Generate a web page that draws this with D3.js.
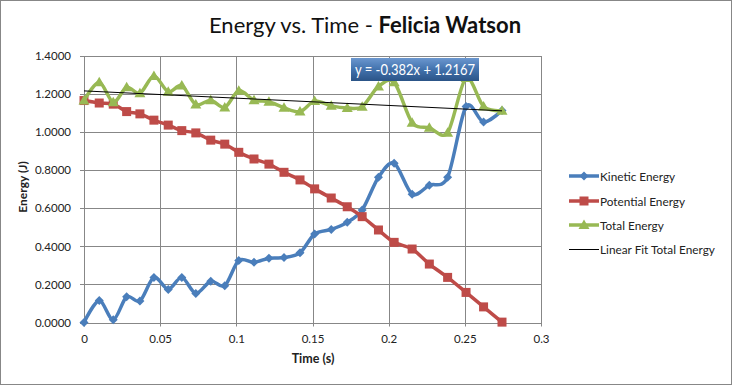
<!DOCTYPE html>
<html>
<head>
<meta charset="utf-8">
<script src="https://cdn.jsdelivr.net/npm/d3@7/dist/d3.min.js"></script>
<style>
  html, body { margin: 0; padding: 0; background: #fff; }
  svg { display: block; }
  text { font-family: Lato, "Open Sans", sans-serif; }
</style>
</head>
<body>
<svg id="chart" width="732" height="385"></svg>
<script>
// ---- data ----
const time = [0, 0.0100, 0.0192, 0.0280, 0.0367, 0.0459, 0.0553, 0.0642, 0.0734, 0.0832,
  0.0924, 0.1016, 0.1116, 0.1214, 0.1313, 0.1418, 0.1514, 0.1623, 0.1728, 0.1826,
  0.1933, 0.2036, 0.2154, 0.2267, 0.2387, 0.2508, 0.2623, 0.2744];
const kinetic = [0.000, 0.115, 0.014, 0.135, 0.113, 0.237, 0.174, 0.237, 0.153, 0.217,
  0.193, 0.326, 0.316, 0.338, 0.341, 0.366, 0.465, 0.489, 0.526, 0.591,
  0.763, 0.837, 0.674, 0.721, 0.763, 1.135, 1.053, 1.114];
const potential = [1.166, 1.153, 1.147, 1.108, 1.096, 1.063, 1.037, 1.008, 0.996, 0.958,
  0.937, 0.894, 0.859, 0.832, 0.789, 0.749, 0.702, 0.654, 0.608, 0.556,
  0.486, 0.421, 0.386, 0.307, 0.237, 0.158, 0.082, 0.002];
const total = [1.166, 1.262, 1.157, 1.236, 1.204, 1.295, 1.212, 1.245, 1.145, 1.168,
  1.130, 1.218, 1.168, 1.160, 1.128, 1.108, 1.163, 1.138, 1.127, 1.134,
  1.240, 1.262, 1.050, 1.023, 0.997, 1.285, 1.135, 1.112];
const fitSlope = -0.382, fitIntercept = 1.2167;
const xTicks = [0, 0.05, 0.1, 0.15, 0.2, 0.25, 0.3];
const xTickLabels = ["0", "0.05", "0.1", "0.15", "0.2", "0.25", "0.3"];
const yTicks = [0, 0.2, 0.4, 0.6, 0.8, 1.0, 1.2, 1.4];
const seriesNames = ["Kinetic Energy", "Potential Energy", "Total Energy", "Linear Fit Total Energy"];

// ---- layout ----
const svg = d3.select("#chart");
const W = 732, H = 385;
const plot = { left: 84, right: 541, top: 56, bottom: 322.5 };
const x = d3.scaleLinear().domain([0, 0.3]).range([plot.left, plot.right]);
const y = d3.scaleLinear().domain([0, 1.4]).range([plot.bottom, plot.top]);
const grid = "#878787";

svg.append("rect").attr("x", 0.5).attr("y", 0.5).attr("width", W - 1).attr("height", H - 1)
  .attr("fill", "#fff").attr("stroke", grid);

// gridlines
const g = svg.append("g");
g.selectAll(".hg").data(yTicks).join("line")
  .attr("x1", plot.left).attr("x2", plot.right)
  .attr("y1", d => Math.round(y(d)) + 0.5).attr("y2", d => Math.round(y(d)) + 0.5)
  .attr("stroke", grid).attr("stroke-width", 1);
g.selectAll(".vg").data(xTicks).join("line")
  .attr("y1", plot.top).attr("y2", plot.bottom + 4)
  .attr("x1", d => Math.round(x(d)) + 0.5).attr("x2", d => Math.round(x(d)) + 0.5)
  .attr("stroke", grid).attr("stroke-width", 1);
g.selectAll(".yt").data(yTicks).join("line")
  .attr("x1", plot.left - 4).attr("x2", plot.left)
  .attr("y1", d => Math.round(y(d)) + 0.5).attr("y2", d => Math.round(y(d)) + 0.5)
  .attr("stroke", grid);

// axes labels
const yAxis = d3.axisLeft(y).tickValues(yTicks).tickFormat(d3.format(".4f")).tickSize(0).tickPadding(13);
const ya = svg.append("g").attr("transform", `translate(${plot.left},0)`).call(yAxis);
ya.select(".domain").remove();
ya.selectAll("text").attr("font-family", "Lato, sans-serif").attr("font-size", 11.5).attr("fill", "#222");

const xAxis = d3.axisBottom(x).tickValues(xTicks).tickFormat((d, i) => xTickLabels[i]).tickSize(0).tickPadding(12);
const xa = svg.append("g").attr("transform", `translate(0,${plot.bottom})`).call(xAxis);
xa.select(".domain").remove();
xa.selectAll("text").attr("font-family", "Lato, sans-serif").attr("font-size", 11.5).attr("fill", "#222");

// axis titles
svg.append("text").attr("transform", "translate(27,187) rotate(-90)")
  .attr("text-anchor", "middle").attr("font-size", 12).attr("font-weight", "bold").attr("fill", "#222")
  .text("Energy (J)");
svg.append("text").attr("x", 313).attr("y", 363)
  .attr("text-anchor", "middle").attr("font-size", 12.5).attr("font-weight", "bold").attr("fill", "#222")
  .text("Time (s)");

// title
const title = svg.append("text").attr("x", 365).attr("y", 33).attr("text-anchor", "middle")
  .attr("font-size", 22).attr("fill", "#111");
title.append("tspan").text("Energy vs. Time - ");
title.append("tspan").attr("font-weight", "bold").text("Felicia Watson");

// series
const colors = ["#4A7EBB", "#BE4B48", "#98B954"];
const seriesVals = [kinetic, potential, total];
const curve = d3.curveCardinal.tension(0.1);

const lineGen = d3.line().x((d, i) => x(time[i])).y(d => y(d)).curve(curve);

function drawMarker(gg, type, cx, cy, color) {
  if (type === 0) {
    gg.append("path").attr("d", `M${cx},${cy - 4.5}L${cx + 4.5},${cy}L${cx},${cy + 4.5}L${cx - 4.5},${cy}Z`).attr("fill", color);
  } else if (type === 1) {
    gg.append("rect").attr("x", cx - 4.5).attr("y", cy - 4.5).attr("width", 9).attr("height", 9).attr("fill", color);
  } else {
    gg.append("path").attr("d", `M${cx},${cy - 5.5}L${cx + 5.5},${cy + 4}L${cx - 5.5},${cy + 4}Z`).attr("fill", color);
  }
}

const seriesG = svg.append("g");
[0, 1, 2].forEach(k => {
  seriesG.append("path").attr("d", lineGen(seriesVals[k])).attr("fill", "none")
    .attr("stroke", colors[k]).attr("stroke-width", 3.5).attr("stroke-linejoin", "round");
  const mg = seriesG.append("g");
  seriesVals[k].forEach((v, i) => drawMarker(mg, k, x(time[i]), y(v), colors[k]));
});

// linear fit
const fitX = [time[0], time[time.length - 1]];
seriesG.append("line")
  .attr("x1", x(fitX[0])).attr("y1", y(fitIntercept + fitSlope * fitX[0]))
  .attr("x2", x(fitX[1])).attr("y2", y(fitIntercept + fitSlope * fitX[1]))
  .attr("stroke", "#000").attr("stroke-width", 1);

// equation label
const defs = svg.append("defs");
const grad = defs.append("linearGradient").attr("id", "eqg").attr("x1", 0).attr("y1", 0).attr("x2", 0).attr("y2", 1);
grad.append("stop").attr("offset", "0%").attr("stop-color", "#6b97cf");
grad.append("stop").attr("offset", "50%").attr("stop-color", "#4272ad");
grad.append("stop").attr("offset", "100%").attr("stop-color", "#2b5487");
svg.append("rect").attr("x", 351).attr("y", 58).attr("width", 128).attr("height", 23).attr("fill", "url(#eqg)");
svg.append("text").attr("x", 355).attr("y", 75)
  .attr("font-size", 14.5).attr("fill", "#fff")
  .attr("textLength", 120).attr("lengthAdjust", "spacingAndGlyphs")
  .text(`y = ${fitSlope}x + ${fitIntercept}`);

// legend
const legY = [176, 201, 225, 249];
const lg = svg.append("g");
seriesNames.forEach((name, i) => {
  if (i < 3) {
    lg.append("line").attr("x1", 569).attr("x2", 599).attr("y1", legY[i]).attr("y2", legY[i])
      .attr("stroke", colors[i]).attr("stroke-width", 3.5);
    drawMarker(lg, i, 584, legY[i], colors[i]);
  } else {
    lg.append("line").attr("x1", 569).attr("x2", 599).attr("y1", legY[i] + 0.5).attr("y2", legY[i] + 0.5)
      .attr("stroke", "#000").attr("stroke-width", 1);
  }
  lg.append("text").attr("x", 600).attr("y", legY[i] + 4.5).attr("font-size", 11.8).attr("fill", "#222").text(name);
});
</script>
</body>
</html>
